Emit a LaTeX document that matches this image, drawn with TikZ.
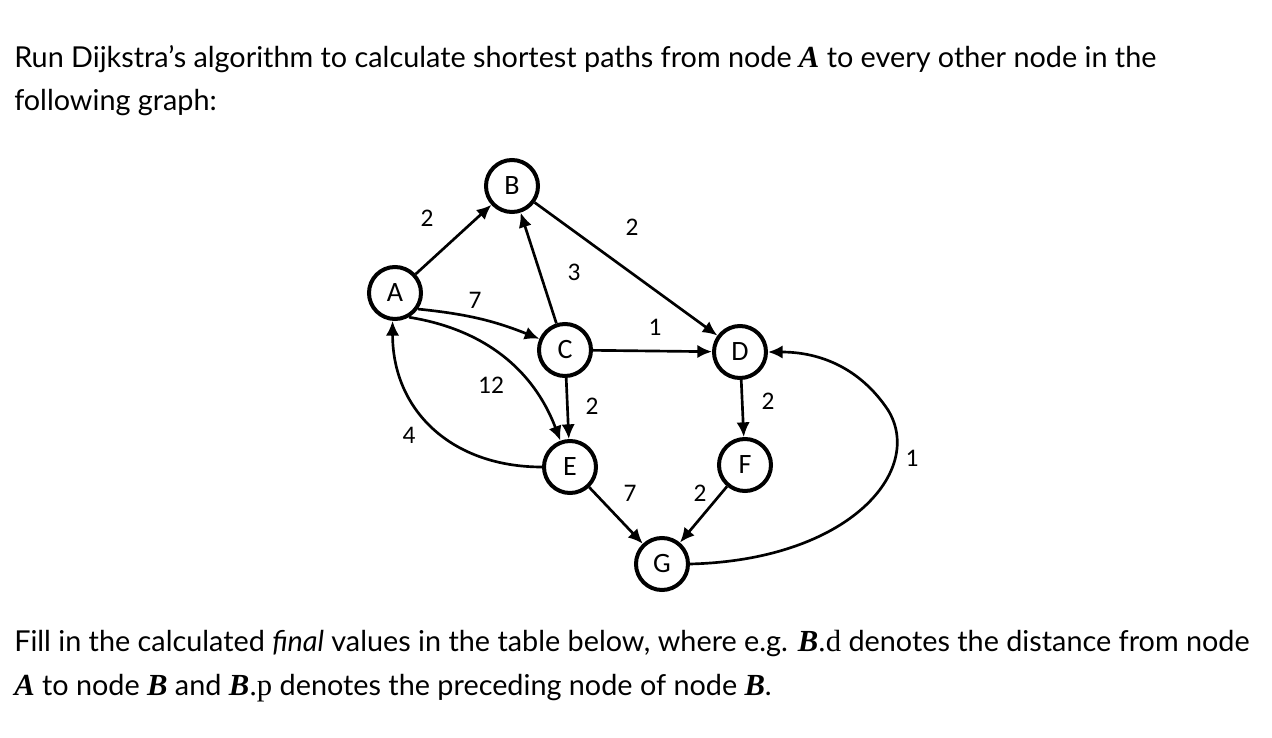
\documentclass[tikz,border=0pt]{standalone}
\usepackage{fontspec}
\setmainfont{Lato}
\newfontfamily\gfont{Carlito}
\newfontfamily\mfont{Liberation Serif}
\usetikzlibrary{arrows.meta}
\newcommand{\mvar}[1]{{\mfont\itshape\bfseries\fontsize{23}{23}\selectfont #1}}
\newcommand{\mup}[1]{{\mfont\fontsize{23}{23}\selectfont #1}}
\begin{document}
\begin{tikzpicture}[x=0.75pt,y=-0.75pt,
  vert/.style={circle,draw,line width=3pt,minimum size=39pt,inner sep=0pt,font=\gfont\fontsize{21}{21}\selectfont},
  edge/.style={line width=2pt,-{Latex[length=11pt,width=10pt]}},
  wt/.style={font=\gfont\fontsize{19}{19}\selectfont},
  txt/.style={anchor=base west,inner sep=0pt,font=\fontsize{21.6}{23}\selectfont}]
\useasboundingbox (0,0) rectangle (1272,738);
\node[txt] (t1) at (14,68) {Run Dijkstra{\char"27}s algorithm to calculate shortest paths from node \mvar{A} to every other node in the};
\node[txt] (t2) at (14,111) {following graph:};
\node[txt] (t3) at (14,651) {Fill in the calculated \textit{final} values in the table below, where e.g. \mvar{B}\mup{.d} denotes the distance from node};
\node[txt] (t4) at (14,695) {\mvar{A} to node \mvar{B} and \mvar{B}\mup{.p} denotes the preceding node of node \mvar{B}.};
\node[vert] (A) at (395,293) {A};
\node[vert] (B) at (512,186) {B};
\node[vert] (C) at (565,350) {C};
\node[vert] (D) at (740,352) {D};
\node[vert] (E) at (570,467) {E};
\node[vert] (F) at (745,465) {F};
\node[vert] (G) at (662,564) {G};
\draw[edge] (A) -- (B);
\draw[edge] (A.-35) to[bend left=8] (C);
\draw[edge] (A.-60) to[bend left=30] (E.110);
\draw[edge] (E.180) to[out=180,in=-90,looseness=1.1] (A.-95);
\draw[edge] (C) -- (B);
\draw[edge] (B) -- (D);
\draw[edge] (C) -- (D);
\draw[edge] (C) -- (E);
\draw[edge] (D) -- (F);
\draw[edge] (E) -- (G);
\draw[edge] (F) -- (G);
\draw[edge] (G.east) .. controls (850,560) and (925,470) .. (888,410) .. controls (860,368) and (820,352) .. (D.east);
\node[wt] (w1) at (427,218) {2};
\node[wt] (w2) at (475,300) {7};
\node[wt] (w3) at (491,385) {12};
\node[wt] (w4) at (409,435) {4};
\node[wt] (w5) at (574,272) {3};
\node[wt] (w6) at (632,227) {2};
\node[wt] (w7) at (655,327) {1};
\node[wt] (w8) at (592,406) {2};
\node[wt] (w9) at (768,401) {2};
\node[wt] (w10) at (630,493) {7};
\node[wt] (w11) at (700,493) {2};
\node[wt] (w12) at (912,458) {1};
\end{tikzpicture}
\end{document}
